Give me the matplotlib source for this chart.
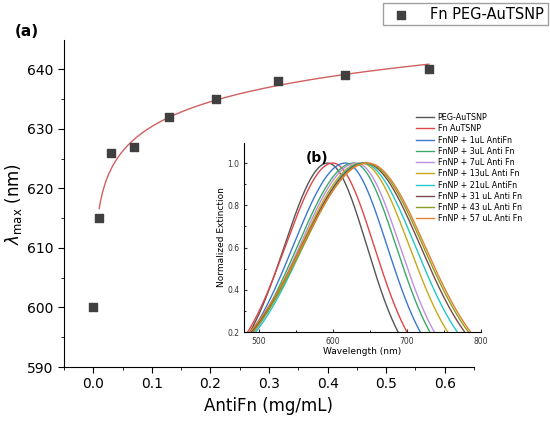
import numpy as np
import matplotlib
matplotlib.use("Agg")
import matplotlib.pyplot as plt

conc = [0.0, 0.01, 0.03, 0.07, 0.13, 0.21, 0.315, 0.43, 0.573]
lam = [600, 615, 626, 627, 632, 635, 638, 639, 640]

labels = ["PEG-AuTSNP", "Fn AuTSNP", "FnNP + 1uL AntiFn", "FnNP + 3uL Anti Fn",
          "FnNP + 7uL Anti Fn", "FnNP + 13uL Anti Fn", "FnNP + 21uL AntiFn",
          "FnNP + 31 uL Anti Fn", "FnNP + 43 uL Anti Fn", "FnNP + 57 uL Anti Fn"]
colors = ["#555555", "#e0454a", "#3c78d0", "#3aaa6a", "#c090e0", "#c8a818",
          "#20c8c8", "#7a4a4a", "#8aa020", "#e08030"]
peaks = [593, 600, 617, 628, 632, 638, 640, 643, 645, 647]
left20 = [488, 485, 490, 492, 494, 492, 496, 490, 492, 488]
right20 = [688, 700, 718, 731, 737, 755, 768, 778, 783, 786]

fig = plt.figure(figsize=(5.5, 4.23), dpi=100)
ax = fig.add_axes([64/550, 1-367/423, (474-64)/550, (367-40)/423])
ax.scatter(conc, lam, marker="s", s=40, color="#404040", zorder=3, label="Fn PEG-AuTSNP")
c = np.polyfit(np.log(conc[1:]), lam[1:], 1)
xf = np.linspace(conc[1], conc[-1], 200)
ax.plot(xf, c[0]*np.log(xf)+c[1], color="#d06060", lw=1)
ax.set_xlim(-0.049, 0.649)
ax.set_ylim(590, 644.9)
ax.set_xticks([0, 0.1, 0.2, 0.3, 0.4, 0.5, 0.6])
ax.set_xticks(np.arange(-0.05, 0.66, 0.05), minor=True)
ax.set_yticks(range(590, 641, 10))
ax.set_yticks(range(595, 645, 10), minor=True)
ax.tick_params(labelsize=10, direction="out", length=4)
ax.tick_params(which="minor", direction="out", length=2.5)
for s in ["top", "right"]:
    ax.spines[s].set_visible(False)
ax.set_xlabel("AntiFn (mg/mL)", fontsize=12)
ax.set_ylabel(r"$\lambda_{\mathrm{max}}$ (nm)", fontsize=12, labelpad=2)
fig.text(15/550, 1-36/423, "(a)", fontsize=11, fontweight="bold")
ax.legend(loc="upper right", bbox_to_anchor=(548/550, 1-3/423), bbox_transform=fig.transFigure,
          fontsize=10.5, frameon=True, fancybox=False, edgecolor="#888888", handletextpad=1.0,
          borderpad=0.25, borderaxespad=0)

ins = fig.add_axes([244/550, 1-332/423, (481-244)/550, (332-143)/423])
wl = np.linspace(480, 800, 600)
k = 1.794
for lab, col, p, l, r in zip(labels, colors, peaks, left20, right20):
    sl = (p-l)/k
    sr = (r-p)/k
    y = np.where(wl < p, np.exp(-(wl-p)**2/(2*sl**2)), np.exp(-(wl-p)**2/(2*sr**2)))
    y = np.where(y >= 0.2, y, np.nan)
    ins.plot(wl, y, color=col, lw=1, label=lab)
ins.set_xlim(480, 800)
ins.set_ylim(0.2, 1.095)
ins.set_xticks([500, 600, 700, 800])
ins.set_xticks([550, 650, 750], minor=True)
ins.set_yticks([0.2, 0.4, 0.6, 0.8, 1.0])
ins.set_yticks([0.3, 0.5, 0.7, 0.9], minor=True)
ins.tick_params(labelsize=5.5, direction="in", length=2.5, colors="#333333")
ins.tick_params(which="minor", direction="in", length=1.5)
for s in ["top", "right"]:
    ins.spines[s].set_visible(False)
ins.set_xlabel("Wavelength (nm)", fontsize=6.5, labelpad=1)
ins.set_ylabel("Normalized Extinction", fontsize=6.5, labelpad=1)
ins.text(0.26, 0.92, "(b)", transform=ins.transAxes, fontsize=10, fontweight="bold", va="center")
ins.legend(loc="upper left", bbox_to_anchor=(416/550, 1-113/423), bbox_transform=fig.transFigure,
           fontsize=5.8, frameon=False, handlelength=2.2, labelspacing=0.28, borderpad=0,
           handletextpad=0.5, borderaxespad=0)

fig.savefig("out.png", dpi=100)
